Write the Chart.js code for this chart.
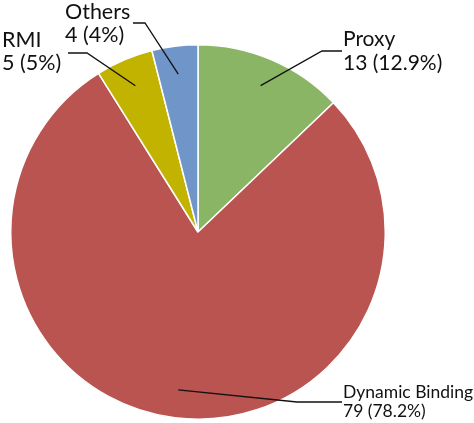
<!DOCTYPE html>
<html>
<head>
<meta charset="utf-8">
<script src="https://cdn.jsdelivr.net/npm/chart.js@4/dist/chart.umd.min.js"></script>
<style>
  html, body { margin: 0; padding: 0; background: #fff; }
  #wrap { width: 474px; height: 423px; }
</style>
</head>
<body>
<div id="wrap"><canvas id="pie" width="474" height="423"></canvas></div>
<script>
const categories = ['Proxy', 'Dynamic Binding', 'RMI', 'Others']
const counts = [13, 79, 5, 4]
const percents = ['12.9%', '78.2%', '5%', '4%']
const colors = ['#8ab565', '#ba5450', '#c1b300', '#7095c8']

// label text placement (baselines of the two lines) and leader line shape
const labelSpots = [
  { x: 343, base1: 46, base2: 70, size: 21, elbowX: 322, lineY: 51, endX: 342 },
  { x: 343, base1: 398, base2: 416.5, size: 17.5, elbowX: 297, lineY: 402, endX: 342 },
  { x: 2, base1: 47, base2: 70, size: 21.5, elbowX: 87, lineY: 53, endX: 68 },
  { x: 65, base1: 18.5, base2: 42, size: 21.5, elbowX: 145, lineY: 23, endX: 133 }
]

const leaderLabels = {
  id: 'leaderLabels',
  afterDatasetsDraw(chart) {
    const ctx = chart.ctx
    const meta = chart.getDatasetMeta(0)
    ctx.save()
    ctx.textBaseline = 'alphabetic'
    ctx.fillStyle = '#111'
    ctx.strokeStyle = '#111'
    ctx.lineWidth = 1.3
    meta.data.forEach((arc, i) => {
      const spot = labelSpots[i]
      const mid = (arc.startAngle + arc.endAngle) / 2
      const r = arc.outerRadius * 0.85
      const ax = arc.x + Math.cos(mid) * r
      const ay = arc.y + Math.sin(mid) * r
      ctx.beginPath()
      ctx.moveTo(ax, ay)
      ctx.lineTo(spot.elbowX, spot.lineY)
      ctx.lineTo(spot.endX, spot.lineY)
      ctx.stroke()
      ctx.font = spot.size + 'px Lato'
      ctx.fillText(categories[i], spot.x, spot.base1)
      ctx.fillText(counts[i] + ' (' + percents[i] + ')', spot.x, spot.base2)
    })
    ctx.restore()
  }
}

new Chart(document.getElementById('pie'), {
  type: 'pie',
  data: {
    labels: categories,
    datasets: [{
      data: counts,
      backgroundColor: colors,
      borderColor: '#ffffff',
      borderWidth: 1.5
    }]
  },
  options: {
    responsive: false,
    animation: false,
    layout: { padding: { left: 10, right: 88, top: 44, bottom: 3 } },
    plugins: {
      legend: { display: false },
      tooltip: { enabled: false }
    }
  },
  plugins: [leaderLabels]
})
</script>
</body>
</html>
